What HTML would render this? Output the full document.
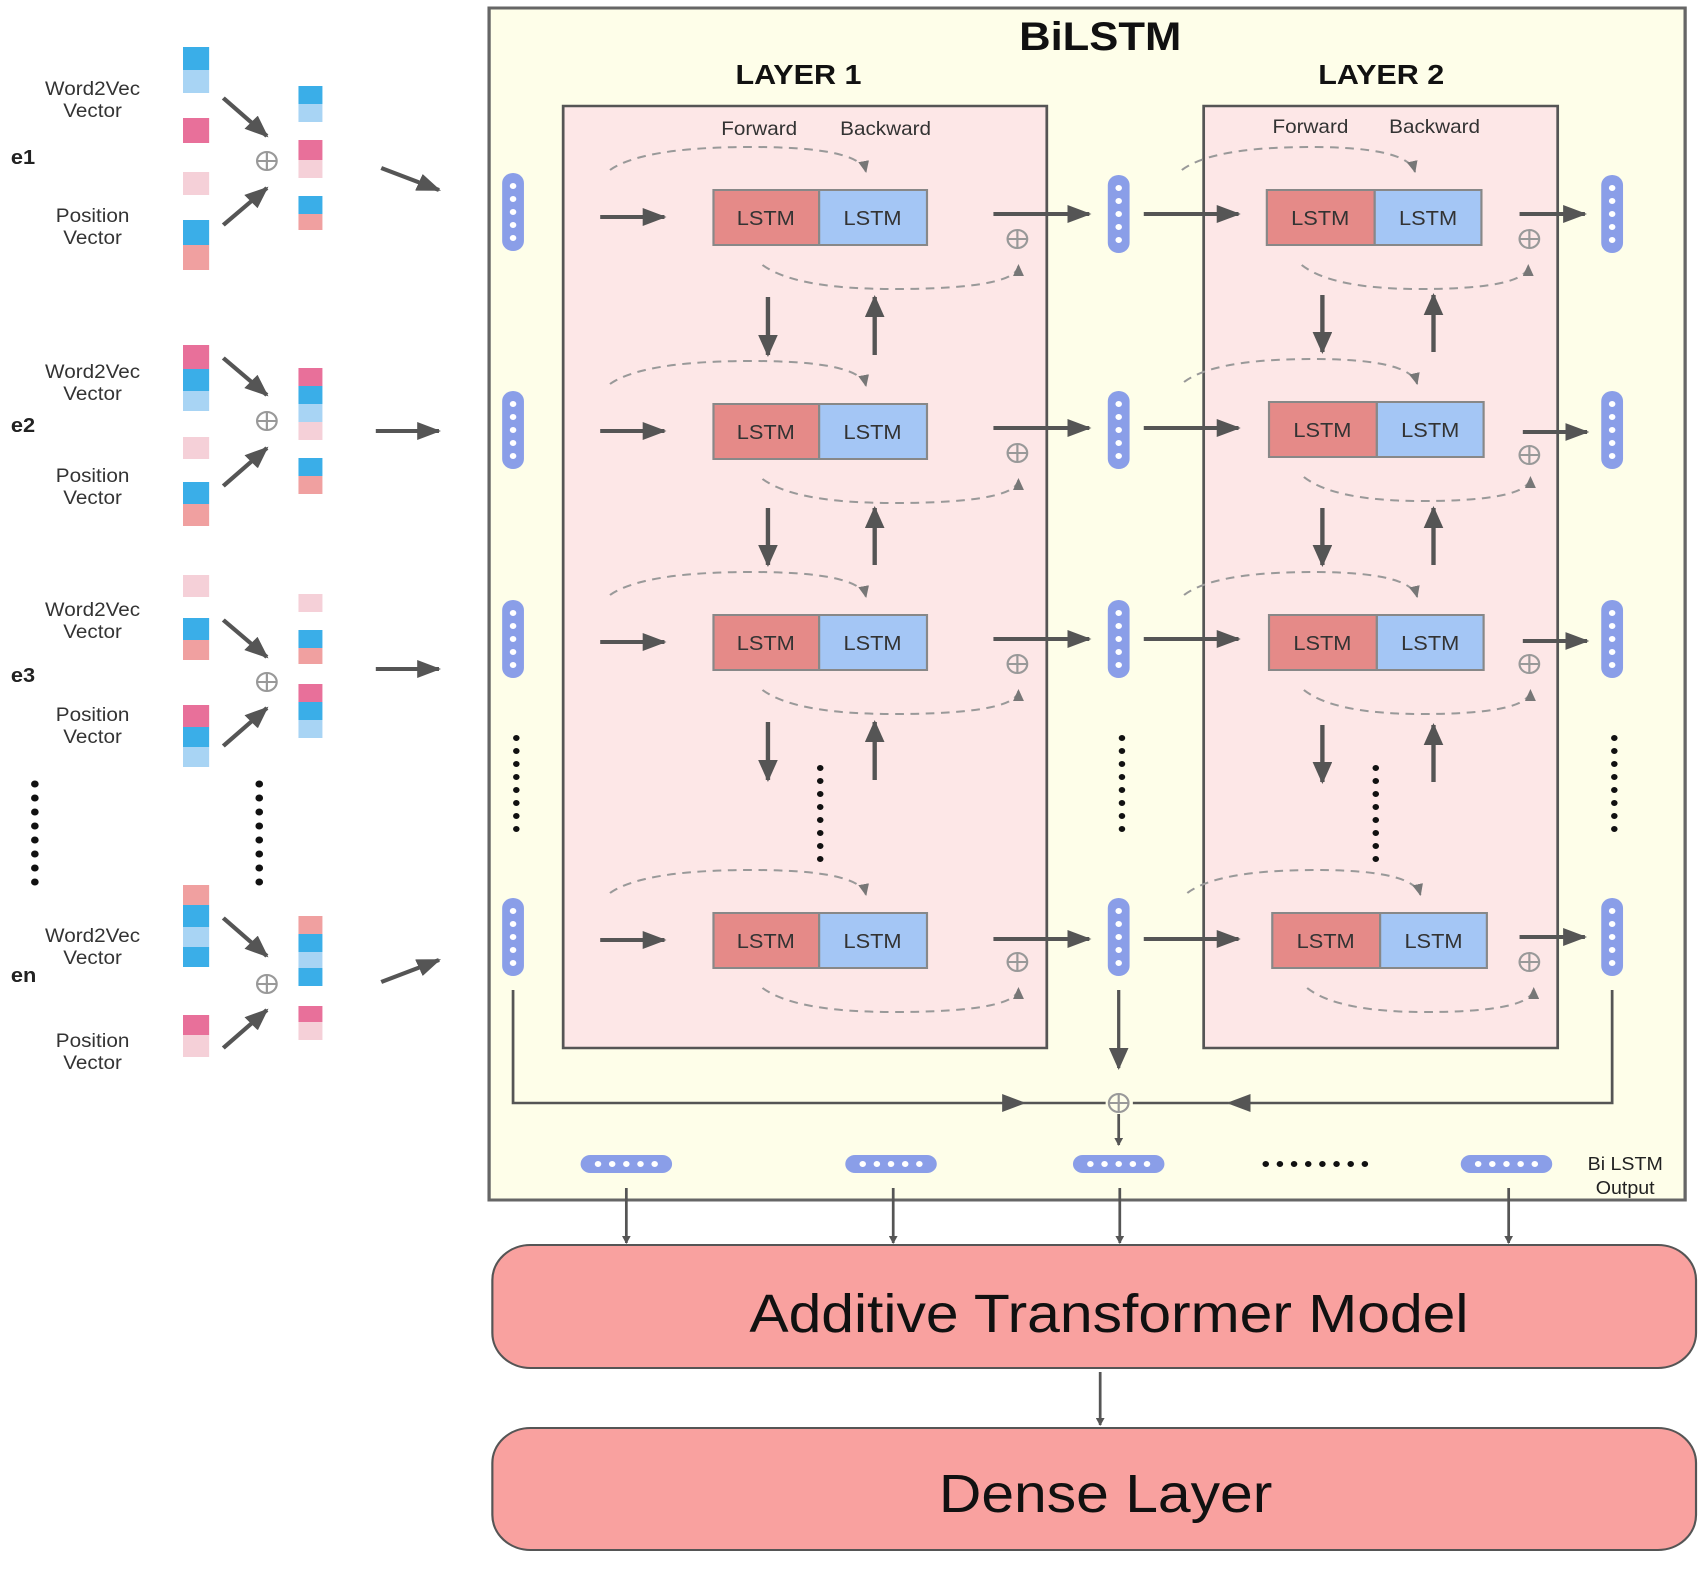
<!DOCTYPE html>
<html><head><meta charset="utf-8"><style>html,body{margin:0;padding:0;background:#fff}svg{display:block}</style></head><body>
<svg width="1708" height="1570" viewBox="0 0 1568 1570" preserveAspectRatio="none" xmlns="http://www.w3.org/2000/svg" font-family="Liberation Sans, sans-serif">
<defs>
<marker id="ah" markerWidth="8" markerHeight="8" refX="7" refY="4" orient="auto" markerUnits="userSpaceOnUse"><path d="M0,0 L8,4 L0,8 Z" fill="#555"/></marker>
<marker id="ab" markerWidth="22" markerHeight="18" refX="20" refY="9" orient="auto" markerUnits="userSpaceOnUse"><path d="M0,0 L22,9 L0,18 Z" fill="#555"/></marker>
<marker id="as" markerWidth="12" markerHeight="10" refX="11" refY="5" orient="auto" markerUnits="userSpaceOnUse"><path d="M0,0 L12,5 L0,10 Z" fill="#777"/></marker>
<g id="oplus"><circle r="9" fill="none" stroke="#999" stroke-width="2"/><path d="M-9,0H9M0,-9V9" stroke="#999" stroke-width="2"/></g>
<g id="vov"><rect x="-10" y="-39" width="20" height="78" rx="10" fill="#8a9ee8"/><g fill="#fff"><circle cy="-26" r="3"/><circle cy="-13" r="3"/><circle cy="0" r="3"/><circle cy="13" r="3"/><circle cy="26" r="3"/></g></g>
<g id="hov"><rect x="-42" y="-9" width="84" height="18" rx="9" fill="#8a9ee8"/><g fill="#fff"><circle cx="-26" r="3"/><circle cx="-13" r="3"/><circle cx="0" r="3"/><circle cx="13" r="3"/><circle cx="26" r="3"/></g></g>
<g id="row">
<line x1="551" y1="0" x2="610" y2="0" stroke="#555" stroke-width="4" marker-end="url(#ab)"/>
<rect x="655" y="-27" width="97" height="55" fill="#e58a88" stroke="#888" stroke-width="2"/>
<rect x="752" y="-27" width="99" height="55" fill="#a4c6f5" stroke="#888" stroke-width="2"/>
<text x="703" y="8" font-size="20" text-anchor="middle" fill="#333">LSTM</text>
<text x="801" y="8" font-size="20" text-anchor="middle" fill="#333">LSTM</text>
<use href="#oplus" x="934" y="22"/>
<path d="M560,-47 Q590,-70 690,-70 Q790,-70 795,-45" fill="none" stroke="#999" stroke-width="2" stroke-dasharray="8,6" marker-end="url(#as)"/>
<path d="M700,48 Q730,72 820,72 Q935,72 935,48" fill="none" stroke="#999" stroke-width="2" stroke-dasharray="8,6" marker-end="url(#as)"/>
</g>
<g id="row2">
<rect x="0" y="-27" width="99" height="55" fill="#e58a88" stroke="#888" stroke-width="2"/>
<rect x="99" y="-27" width="98" height="55" fill="#a4c6f5" stroke="#888" stroke-width="2"/>
<text x="49" y="8" font-size="20" text-anchor="middle" fill="#333">LSTM</text>
<text x="148" y="8" font-size="20" text-anchor="middle" fill="#333">LSTM</text>
<path d="M-78,-47 Q-50,-70 40,-70 Q130,-70 136,-45" fill="none" stroke="#999" stroke-width="2" stroke-dasharray="8,6" marker-end="url(#as)"/>
<path d="M32,48 Q60,72 140,72 Q240,72 240,48" fill="none" stroke="#999" stroke-width="2" stroke-dasharray="8,6" marker-end="url(#as)"/>
</g>
</defs>

<g font-size="19" fill="#333" text-anchor="middle">
<text x="85" y="95">Word2Vec</text><text x="85" y="117">Vector</text>
<text x="85" y="222">Position</text><text x="85" y="244">Vector</text>
<text x="85" y="378">Word2Vec</text><text x="85" y="400">Vector</text>
<text x="85" y="482">Position</text><text x="85" y="504">Vector</text>
<text x="85" y="616">Word2Vec</text><text x="85" y="638">Vector</text>
<text x="85" y="721">Position</text><text x="85" y="743">Vector</text>
<text x="85" y="942">Word2Vec</text><text x="85" y="964">Vector</text>
<text x="85" y="1047">Position</text><text x="85" y="1069">Vector</text>
</g>
<g font-size="20" font-weight="bold" fill="#222">
<text x="10" y="164">e1</text><text x="10" y="432">e2</text><text x="10" y="682">e3</text><text x="10" y="982">en</text>
</g>
<g>
<rect x="168" y="47" width="24" height="23" fill="#3aaee8"/><rect x="168" y="70" width="24" height="23" fill="#a8d4f4"/><rect x="168" y="118" width="24" height="25" fill="#e8709a"/>
<rect x="168" y="172" width="24" height="23" fill="#f5d0d8"/><rect x="168" y="220" width="24" height="25" fill="#3aaee8"/><rect x="168" y="245" width="24" height="25" fill="#f0a0a0"/>
<rect x="274" y="86" width="22" height="18" fill="#3aaee8"/><rect x="274" y="104" width="22" height="18" fill="#a8d4f4"/><rect x="274" y="140" width="22" height="20" fill="#e8709a"/><rect x="274" y="160" width="22" height="18" fill="#f5d0d8"/><rect x="274" y="196" width="22" height="18" fill="#3aaee8"/><rect x="274" y="214" width="22" height="16" fill="#f0a0a0"/>
<rect x="168" y="345" width="24" height="24" fill="#e8709a"/><rect x="168" y="369" width="24" height="22" fill="#3aaee8"/><rect x="168" y="391" width="24" height="20" fill="#a8d4f4"/>
<rect x="168" y="437" width="24" height="22" fill="#f5d0d8"/><rect x="168" y="482" width="24" height="22" fill="#3aaee8"/><rect x="168" y="504" width="24" height="22" fill="#f0a0a0"/>
<rect x="274" y="368" width="22" height="18" fill="#e8709a"/><rect x="274" y="386" width="22" height="18" fill="#3aaee8"/><rect x="274" y="404" width="22" height="18" fill="#a8d4f4"/><rect x="274" y="422" width="22" height="18" fill="#f5d0d8"/><rect x="274" y="458" width="22" height="18" fill="#3aaee8"/><rect x="274" y="476" width="22" height="18" fill="#f0a0a0"/>
<rect x="168" y="575" width="24" height="22" fill="#f5d0d8"/><rect x="168" y="618" width="24" height="22" fill="#3aaee8"/><rect x="168" y="640" width="24" height="20" fill="#f0a0a0"/>
<rect x="168" y="705" width="24" height="22" fill="#e8709a"/><rect x="168" y="727" width="24" height="20" fill="#3aaee8"/><rect x="168" y="747" width="24" height="20" fill="#a8d4f4"/>
<rect x="274" y="594" width="22" height="18" fill="#f5d0d8"/><rect x="274" y="630" width="22" height="18" fill="#3aaee8"/><rect x="274" y="648" width="22" height="16" fill="#f0a0a0"/><rect x="274" y="684" width="22" height="18" fill="#e8709a"/><rect x="274" y="702" width="22" height="18" fill="#3aaee8"/><rect x="274" y="720" width="22" height="18" fill="#a8d4f4"/>
<rect x="168" y="885" width="24" height="20" fill="#f0a0a0"/><rect x="168" y="905" width="24" height="22" fill="#3aaee8"/><rect x="168" y="927" width="24" height="20" fill="#a8d4f4"/><rect x="168" y="947" width="24" height="20" fill="#3aaee8"/>
<rect x="168" y="1015" width="24" height="20" fill="#e8709a"/><rect x="168" y="1035" width="24" height="22" fill="#f5d0d8"/>
<rect x="274" y="916" width="22" height="18" fill="#f0a0a0"/><rect x="274" y="934" width="22" height="18" fill="#3aaee8"/><rect x="274" y="952" width="22" height="16" fill="#a8d4f4"/><rect x="274" y="968" width="22" height="18" fill="#3aaee8"/><rect x="274" y="1006" width="22" height="16" fill="#e8709a"/><rect x="274" y="1022" width="22" height="18" fill="#f5d0d8"/>
</g>
<g stroke="#555" stroke-width="4">
<line x1="205" y1="98" x2="245" y2="136" marker-end="url(#ab)"/><line x1="205" y1="225" x2="245" y2="188" marker-end="url(#ab)"/>
<line x1="205" y1="358" x2="245" y2="395" marker-end="url(#ab)"/><line x1="205" y1="486" x2="245" y2="448" marker-end="url(#ab)"/>
<line x1="205" y1="620" x2="245" y2="657" marker-end="url(#ab)"/><line x1="205" y1="746" x2="245" y2="708" marker-end="url(#ab)"/>
<line x1="205" y1="918" x2="245" y2="956" marker-end="url(#ab)"/><line x1="205" y1="1048" x2="245" y2="1010" marker-end="url(#ab)"/>
<line x1="350" y1="168" x2="403" y2="190" marker-end="url(#ab)"/>
<line x1="345" y1="431" x2="403" y2="431" marker-end="url(#ab)"/>
<line x1="345" y1="669" x2="403" y2="669" marker-end="url(#ab)"/>
<line x1="350" y1="982" x2="403" y2="960" marker-end="url(#ab)"/>
</g>
<use href="#oplus" x="245" y="161"/><use href="#oplus" x="245" y="421"/><use href="#oplus" x="245" y="682"/><use href="#oplus" x="245" y="984"/>
<g stroke="#111" stroke-width="7" stroke-linecap="round" stroke-dasharray="0,14">
<line x1="32" y1="784" x2="32" y2="885"/><line x1="238" y1="784" x2="238" y2="885"/>
</g>

<rect x="449" y="8" width="1098" height="1192" fill="#fefee9" stroke="#666" stroke-width="3"/>
<text x="1010" y="50" font-size="40" font-weight="bold" text-anchor="middle" fill="#111">BiLSTM</text>
<text x="733" y="84" font-size="28" font-weight="bold" text-anchor="middle" fill="#111">LAYER 1</text>
<text x="1268" y="84" font-size="28" font-weight="bold" text-anchor="middle" fill="#111">LAYER 2</text>
<rect x="517" y="106" width="444" height="942" fill="#fde7e7" stroke="#555" stroke-width="2.5"/>
<rect x="1105" y="106" width="325" height="942" fill="#fde7e7" stroke="#555" stroke-width="2.5"/>
<g font-size="19" fill="#333" text-anchor="middle">
<text x="697" y="135">Forward</text><text x="813" y="135">Backward</text>
<text x="1203" y="133">Forward</text><text x="1317" y="133">Backward</text>
</g>
<use href="#row" y="217"/><use href="#row" y="431"/><use href="#row" y="642"/><use href="#row" y="940"/>
<use href="#row2" x="1163" y="217"/><use href="#row2" x="1165" y="429"/><use href="#row2" x="1165" y="642"/><use href="#row2" x="1168" y="940"/>
<use href="#oplus" x="1404" y="239"/><use href="#oplus" x="1404" y="455"/><use href="#oplus" x="1404" y="664"/><use href="#oplus" x="1404" y="962"/>
<g stroke="#555" stroke-width="4">
<line x1="912" y1="214" x2="1000" y2="214" marker-end="url(#ab)"/><line x1="912" y1="428" x2="1000" y2="428" marker-end="url(#ab)"/><line x1="912" y1="639" x2="1000" y2="639" marker-end="url(#ab)"/><line x1="912" y1="939" x2="1000" y2="939" marker-end="url(#ab)"/>
<line x1="1050" y1="214" x2="1137" y2="214" marker-end="url(#ab)"/><line x1="1050" y1="428" x2="1137" y2="428" marker-end="url(#ab)"/><line x1="1050" y1="639" x2="1137" y2="639" marker-end="url(#ab)"/><line x1="1050" y1="939" x2="1137" y2="939" marker-end="url(#ab)"/>
<line x1="1395" y1="214" x2="1455" y2="214" marker-end="url(#ab)"/><line x1="1398" y1="432" x2="1457" y2="432" marker-end="url(#ab)"/><line x1="1398" y1="641" x2="1457" y2="641" marker-end="url(#ab)"/><line x1="1395" y1="937" x2="1455" y2="937" marker-end="url(#ab)"/>
<line x1="705" y1="297" x2="705" y2="355" marker-end="url(#ab)"/><line x1="803" y1="355" x2="803" y2="297" marker-end="url(#ab)"/>
<line x1="705" y1="508" x2="705" y2="565" marker-end="url(#ab)"/><line x1="803" y1="565" x2="803" y2="508" marker-end="url(#ab)"/>
<line x1="705" y1="722" x2="705" y2="780" marker-end="url(#ab)"/><line x1="803" y1="780" x2="803" y2="722" marker-end="url(#ab)"/>
<line x1="1214" y1="295" x2="1214" y2="352" marker-end="url(#ab)"/><line x1="1316" y1="352" x2="1316" y2="295" marker-end="url(#ab)"/>
<line x1="1214" y1="508" x2="1214" y2="565" marker-end="url(#ab)"/><line x1="1316" y1="565" x2="1316" y2="508" marker-end="url(#ab)"/>
<line x1="1214" y1="725" x2="1214" y2="782" marker-end="url(#ab)"/><line x1="1316" y1="782" x2="1316" y2="725" marker-end="url(#ab)"/>
</g>
<use href="#vov" x="471" y="212"/><use href="#vov" x="471" y="430"/><use href="#vov" x="471" y="639"/><use href="#vov" x="471" y="937"/>
<use href="#vov" x="1027" y="214"/><use href="#vov" x="1027" y="430"/><use href="#vov" x="1027" y="639"/><use href="#vov" x="1027" y="937"/>
<use href="#vov" x="1480" y="214"/><use href="#vov" x="1480" y="430"/><use href="#vov" x="1480" y="639"/><use href="#vov" x="1480" y="937"/>
<g stroke="#111" stroke-width="6" stroke-linecap="round" stroke-dasharray="0,13">
<line x1="474" y1="738" x2="474" y2="842"/><line x1="1030" y1="738" x2="1030" y2="842"/><line x1="1482" y1="738" x2="1482" y2="842"/>
<line x1="753" y1="768" x2="753" y2="860"/><line x1="1263" y1="768" x2="1263" y2="860"/>
<line x1="1162" y1="1164" x2="1260" y2="1164"/>
</g>
<g stroke="#555" stroke-width="2.5" fill="none">
<path d="M471,990 V1103 H940" marker-end="url(#ab)"/>
<path d="M1480,990 V1103 H1128" marker-end="url(#ab)"/>
<line x1="1027" y1="990" x2="1027" y2="1068" stroke-width="3" marker-end="url(#ab)"/>
<line x1="1027" y1="1114" x2="1027" y2="1145" marker-end="url(#ah)"/>
</g>
<line x1="940" y1="1103" x2="1015" y2="1103" stroke="#555" stroke-width="2.5"/>
<line x1="1040" y1="1103" x2="1128" y2="1103" stroke="#555" stroke-width="2.5"/>
<use href="#oplus" x="1027" y="1103"/>
<use href="#hov" x="575" y="1164"/><use href="#hov" x="818" y="1164"/><use href="#hov" x="1027" y="1164"/><use href="#hov" x="1383" y="1164"/>
<text x="1492" y="1170" font-size="18" text-anchor="middle" fill="#222">Bi LSTM</text>
<text x="1492" y="1194" font-size="18" text-anchor="middle" fill="#222">Output</text>
<g stroke="#555" stroke-width="2.5">
<line x1="575" y1="1188" x2="575" y2="1243" marker-end="url(#ah)"/><line x1="820" y1="1188" x2="820" y2="1243" marker-end="url(#ah)"/><line x1="1028" y1="1188" x2="1028" y2="1243" marker-end="url(#ah)"/><line x1="1385" y1="1188" x2="1385" y2="1243" marker-end="url(#ah)"/>
<line x1="1010" y1="1372" x2="1010" y2="1425" marker-end="url(#ah)"/>
</g>
<rect x="452" y="1245" width="1105" height="123" rx="35" fill="#f9a19f" stroke="#555" stroke-width="2"/>
<text x="1018" y="1332" font-size="54" text-anchor="middle" fill="#111">Additive Transformer Model</text>
<rect x="452" y="1428" width="1105" height="122" rx="35" fill="#f9a19f" stroke="#555" stroke-width="2"/>
<text x="1015" y="1512" font-size="54" text-anchor="middle" fill="#111">Dense Layer</text>
</svg>
</body></html>
